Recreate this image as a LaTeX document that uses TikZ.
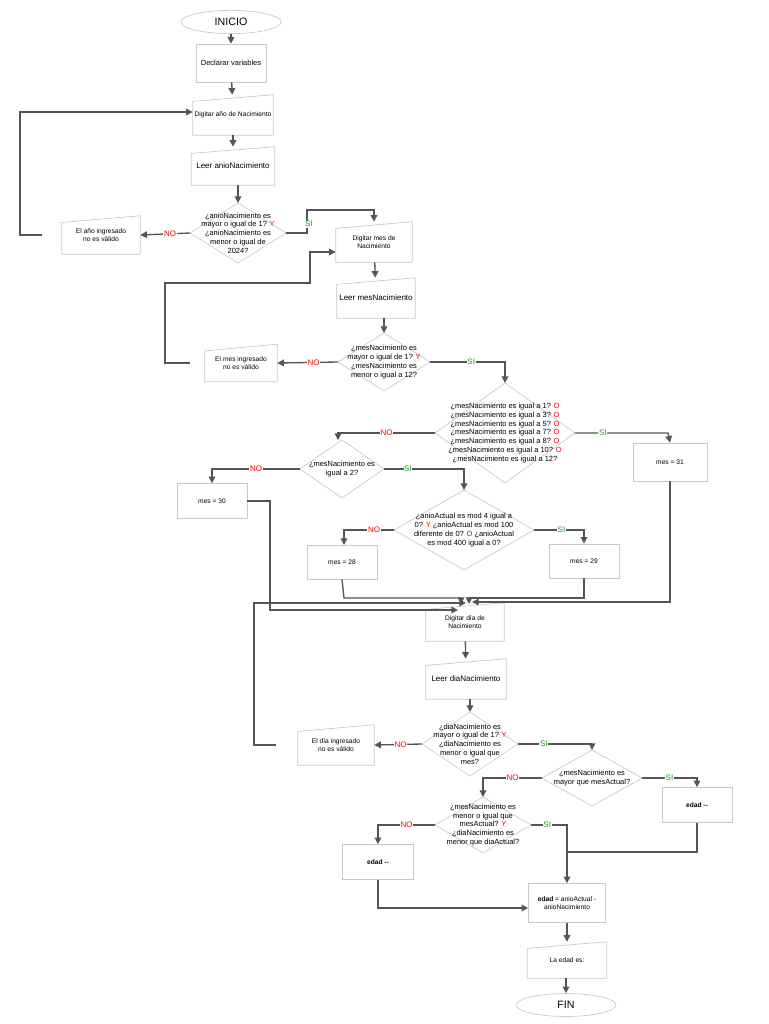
\documentclass[tikz,border=0pt]{standalone}
\usepackage{fontspec}
\setmainfont{Liberation Sans}
\usetikzlibrary{arrows.meta,calc,shapes.geometric}
\definecolor{ln}{HTML}{555555}
\definecolor{bx}{HTML}{C8C8C8}
\definecolor{sig}{HTML}{1A9A1A}
\newcommand\R[1]{\textcolor{red}{#1}}
\tikzset{
 box/.style={draw=bx,line width=0.5pt,align=center,font=\fontsize{5}{6}\selectfont,inner sep=1pt},
 plain/.style={draw=none,align=center,font=\fontsize{5}{6}\selectfont,inner sep=1pt},
 big/.style={font=\fontsize{6}{7}\selectfont},
 boxline/.style={draw=bx,line width=0.5pt},
 dtext/.style={align=center,font=\fontsize{5.6}{6.6}\selectfont,inner sep=0pt},
 arr/.style={draw=ln,line width=1pt,-{Triangle[length=5pt,width=5pt]}},
 ln/.style={draw=ln,line width=1pt},
 no/.style={fill=white,text=red,font=\fontsize{6}{7}\selectfont,inner sep=0.5pt},
 si/.style={fill=white,text=sig,font=\fontsize{6}{7}\selectfont,inner sep=0.5pt},
 term/.style={ellipse,draw=bx,line width=0.5pt,font=\fontsize{8}{9}\selectfont},
}
\newcommand\bx[6]{\node[box,minimum width=#4*0.75pt,minimum height=#5*0.75pt] (#1) at (#2,#3) {#6};}
\newcommand\mi[6]{\node[plain,minimum width=#4*0.75pt,minimum height=#5*0.75pt] (#1) at (#2,#3) {#6};
 \draw[boxline] (#1.south west) -- (#1.south east) -- (#1.north east) -- ([yshift=-5pt]#1.north west) -- cycle;}
\newcommand\dia[6]{\coordinate (#1-l) at ({#2-#4},#3); \coordinate (#1-r) at ({#2+#4},#3);
 \coordinate (#1-t) at (#2,{#3-#5}); \coordinate (#1-b) at (#2,{#3+#5});
 \draw[boxline] (#1-l) -- (#1-t) -- (#1-r) -- (#1-b) -- cycle;
 \node[dtext] (#1) at (#2,#3) {#6};}
\begin{document}
\begin{tikzpicture}[x=0.75pt,y=-0.75pt]
\useasboundingbox (0,0) rectangle (768,1024);
\node[term,minimum width=75pt,minimum height=16pt] (ini) at (231,22) {INICIO};
\bx{dec}{231}{63}{70}{38}{\fontsize{5.6}{6.6}\selectfont Declarar variables}
\mi{dan}{233}{115}{80}{40}{Digitar año de Nacimiento}
\mi{lan}{233}{166}{83}{38}{\fontsize{6}{7}\selectfont Leer anioNacimiento}
\dia{d1}{238}{233}{48}{30}{¿anioNacimiento es\\ mayor o igual de 1? \R{Y}\\ ¿anioNacimiento es\\ menor o igual de\\ 2024?}
\mi{e1}{101}{235}{78}{38}{El año ingresado\\ no es válido}
\mi{dmes}{374}{242}{76}{40}{Digitar mes de\\ Nacimiento}
\mi{lmes}{376}{298}{78}{40}{\fontsize{6}{7}\selectfont Leer mesNacimiento}
\dia{d2}{384}{362}{46}{29}{¿mesNacimiento es\\ mayor o igual de 1? \R{Y}\\ ¿mesNacimiento es\\ menor o igual a 12?}
\mi{e2}{241}{363}{72}{37}{El mes ingresado\\ no es válido}
\dia{d3}{505}{433}{70}{50}{¿mesNacimiento es igual a 1? \R{O}\\ ¿mesNacimiento es igual a 3? \R{O}\\ ¿mesNacimiento es igual a 5? \R{O}\\ ¿mesNacimiento es igual a 7? \R{O}\\ ¿mesNacimiento es igual a 8? \R{O}\\ ¿mesNacimiento es igual a 10? \R{O}\\ ¿mesNacimiento es igual a 12?}
\bx{m31}{670}{462}{74}{38}{mes = 31}
\dia{d4}{342}{469}{42}{29}{¿mesNacimiento es\\ igual a 2?}
\bx{m30}{212}{501}{70}{35}{mes = 30}
\dia{d5}{464}{530}{70}{40}{¿anioActual es mod 4 igual a\\ 0? \R{Y} ¿anioActual es mod 100\\ diferente de 0? \R{O} ¿anioActual\\ es mod 400 igual a 0?}
\bx{m28}{342}{562}{70}{34}{mes = 28}
\bx{m29}{584}{561}{70}{34}{mes = 29}
\mi{ddia}{465}{622}{78}{38}{Digitar día de\\ Nacimiento}
\mi{ldia}{466}{679}{80}{40}{\fontsize{6}{7}\selectfont Leer diaNacimiento}
\dia{d6}{470}{744}{48}{32}{¿diaNacimiento es\\ mayor o igual de 1? \R{Y}\\ ¿diaNacimiento es\\ menor o igual que\\ mes?}
\mi{e3}{336}{745}{76}{40}{El día ingresado\\ no es válido}
\dia{d7}{592}{778}{50}{28}{¿mesNacimiento es\\ mayor que mesActual?}
\bx{edr}{697}{805}{70}{35}{\textbf{edad -{}-}}
\dia{d8}{483}{825}{48}{28}{¿mesNacimiento es\\ menor o igual que\\ mesActual? \R{Y}\\ ¿diaNacimiento es\\ menor que diaActual?}
\bx{edl}{378}{862}{71}{35}{\textbf{edad -{}-}}
\bx{calc}{567}{903}{77}{39}{\textbf{edad} = anioActual -\\ anioNacimiento}
\mi{out}{567}{960}{79}{36}{La edad es:}
\node[term,minimum width=75pt,minimum height=15pt] (fin) at (566,1005) {FIN};
% connectors
\draw[arr] (ini) -- (dec);
\draw[arr] (dec) -- (dan);
\draw[arr] (dan) -- (lan);
\draw[arr] (d1-t |- lan.south) -- (d1-t);
\draw[arr] (d1-l) -- node[no,pos=0.4]{NO} (e1.east);
\draw[arr] (e1.west) ++(-20,0) -- (20,235) -- (20,112) -- (dan.west |- 0,112);
\draw[arr] (d1-r) -- (307,233) -- (307,210) -| (dmes.north);
\node[si] at (309,224) {SI};
\draw[arr] (dmes) -- (lmes);
\draw[arr] (d2-t |- lmes.south) -- (d2-t);
\draw[arr] (d2-l) -- node[no,pos=0.4]{NO} (e2.east);
\draw[arr] (e2.west) ++(-15,0) -- (165,363) -- (165,283) -- (310,283) -- (310,252) -- (dmes.west |- 0,252);
\draw[arr] (d2-r) -- node[si,pos=0.55]{SI} (505,362) -- (d3-t);
\draw[arr] (d3-l) -- node[no,pos=0.5]{NO} (338,433) -- (338,440);
\draw[arr] (d3-r) -- node[si,pos=0.3]{SI} (668,433) -- (m31.north);
\draw[arr] (d4-l) -- node[no,pos=0.5]{NO} (212,469) -- (m30.north);
\draw[arr] (d4-r) -- node[si,pos=0.3]{SI} (464,469) -- (d5-t);
\draw[arr] (d5-l) -- node[no,pos=0.4]{NO} (344,530) -- (344,545);
\draw[arr] (d5-r) -- node[si,pos=0.55]{SI} (584,530) -- (m29.north);
\draw[arr] (m28.south) -- (344,598) -- (461,598) -- (461,604);
\draw[arr] (m29.south) -- (584,598) -- (469,598) -- (469,604);
\draw[arr] (m31.south) -- (670,602) -- (472,602);
\draw[arr] (m30.east) -- (270,501) -- (270,610) -- (458,610);
\draw[arr] (e3.west) ++(-22,0) -- (254,745) -- (254,603) -- (466,603);
\draw[arr] (ddia) -- (ldia);
\draw[arr] (d6-t |- ldia.south) -- (d6-t);
\draw[arr] (d6-l) -- node[no,pos=0.45]{NO} (e3.east);
\draw[arr] (d6-r) -- node[si,pos=0.35]{SI} (592,744) -- (d7-t);
\draw[arr] (d7-l) -- node[no,pos=0.5]{NO} (483,778) -- (d8-t);
\draw[arr] (d7-r) -- node[si,pos=0.5]{SI} (697,778) -- (edr.north);
\draw[arr] (d8-l) -- node[no,pos=0.5]{NO} (378,825) -- (edl.north);
\draw[arr] (d8-r) -- node[si,pos=0.45]{SI} (567,825) -- (calc.north);
\draw[ln] (edr.south) -- (697,852) -- (567,852);
\draw[arr] (edl.south) -- (378,908) -- (calc.west |- 0,908);
\draw[arr] (calc) -- (out);
\draw[arr] (out.south -| fin.north) -- (fin.north);
\end{tikzpicture}
\end{document}
